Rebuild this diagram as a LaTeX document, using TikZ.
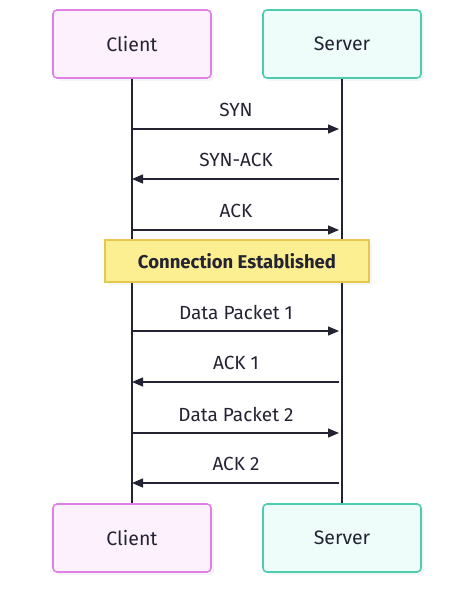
\documentclass[tikz,border=0pt]{standalone}
\usepackage{fontspec}
\setmainfont{Fira Sans}
\usepackage{xcolor}
\usepackage{tikz}
\usetikzlibrary{arrows.meta,shadows}

\definecolor{clientline}{HTML}{E07FE6}
\definecolor{clientfill}{HTML}{FDF1FD}
\definecolor{serverline}{HTML}{4CCDB0}
\definecolor{serverfill}{HTML}{EEFCFA}
\definecolor{noteline}{HTML}{E6C84E}
\definecolor{notefill}{HTML}{FCEF92}
\definecolor{ink}{HTML}{232333}

\tikzset{
  actor/.style={draw, line width=1.6pt, rounded corners=4pt, minimum width=158pt, minimum height=68pt,
    font=\fontsize{19.5}{23}\selectfont, text=ink, drop shadow={shadow xshift=3pt, shadow yshift=-3pt, opacity=0.08}},
  client/.style={actor, draw=clientline, fill=clientfill},
  server/.style={actor, draw=serverline, fill=serverfill},
  msg/.style={line width=1.4pt, ink, -{Triangle[length=11pt,width=9pt]}},
  msglabel/.style={font=\fontsize{19}{22}\selectfont, text=ink},
  lifeline/.style={line width=1.6pt, ink}
}

\begin{document}
\begin{tikzpicture}[x=1pt,y=-1pt]
\useasboundingbox (0,0) rectangle (474,616);
% actors
\node[client] (ctop) at (132,44) {Client};
\node[server] (stop) at (342,44) {Server};
\node[client] (cbot) at (132,538) {Client};
\node[server] (sbot) at (342,538) {Server};
% lifelines
\draw[lifeline] (ctop.south) -- (cbot.north);
\draw[lifeline] (stop.south) -- (sbot.north);
% messages
\foreach \y/\txt/\dir in {129/SYN/r, 179/SYN-ACK/l, 230/ACK/r, 331/Data Packet 1/r, 382/ACK 1/l, 433/Data Packet 2/r, 483/ACK 2/l}{
  \coordinate (cl) at (132,\y);
  \coordinate (sl) at (339,\y);
  \node[msglabel] (lbl\y) at (236,\y-19) {\txt};
  \if r\dir
    \draw[msg] (cl) -- (sl);
  \else
    \draw[msg] (sl) -- (cl);
  \fi
}
% note
\node[draw=noteline, fill=notefill, line width=1.6pt, minimum width=264pt, minimum height=42pt,
  font=\fontsize{18.5}{22}\selectfont\bfseries, text=ink,
  drop shadow={shadow xshift=3pt, shadow yshift=-3pt, opacity=0.08}] (est) at (237,261) {Connection Established};
\end{tikzpicture}
\end{document}
